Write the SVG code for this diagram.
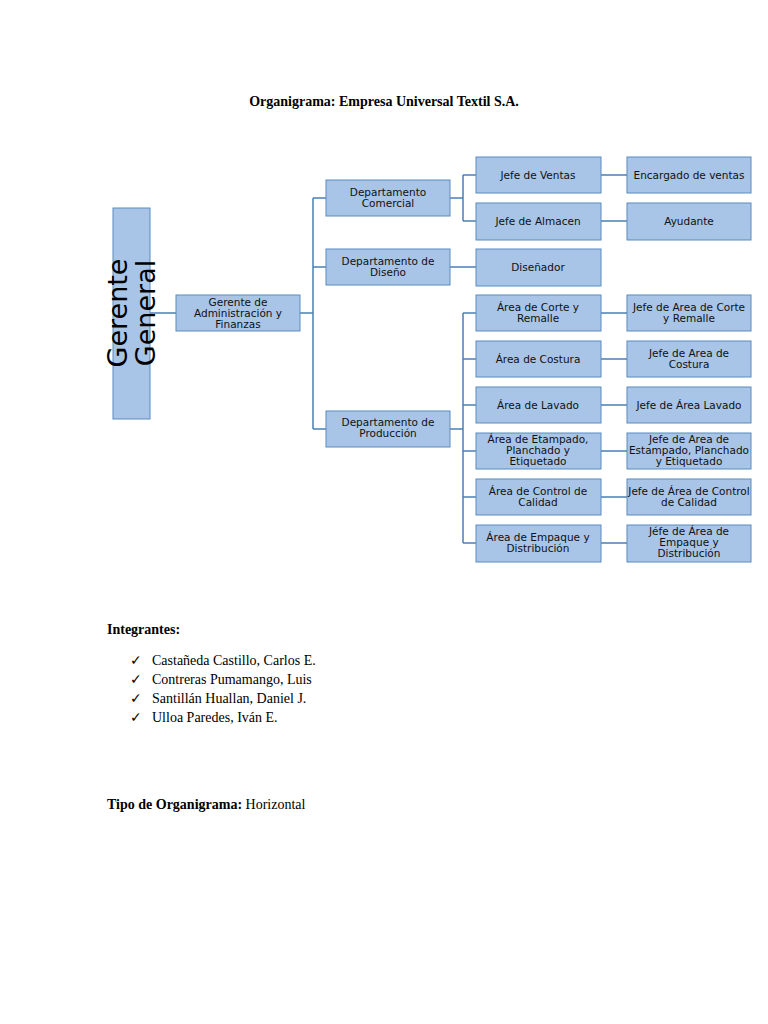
<svg xmlns="http://www.w3.org/2000/svg" width="768" height="1024" viewBox="0 0 768 1024">
<style>
.b{fill:#a8c4e6;stroke:#5a8cbf;stroke-width:1}
.t{font-family:"DejaVu Sans",sans-serif;font-size:10.5px;fill:#111;text-anchor:middle}
.s{font-family:"Liberation Serif",serif;font-size:14px;fill:#000}
.c{fill:none;stroke:#4a7fb5;stroke-width:1.5}
</style>
<rect width="768" height="1024" fill="#fff"/>
<text class="s" x="384" y="106" text-anchor="middle" font-weight="bold">Organigrama: Empresa Universal Textil S.A.</text>
<g id="connectors">
<path class="c" d="M150 313H176M300 313H313M313 198V429M313 198H326M313 267H326M313 429H326"/>
<path class="c" d="M450 198H463M463 175V221M463 175H476M463 221H476M601 175H627M601 221H627M450 267H476"/>
<path class="c" d="M450 429H463M463 313V543M463 313H476M463 359H476M463 405H476M463 451H476M463 497H476M463 543H476"/>
<path class="c" d="M601 313H627M601 359H627M601 405H627M601 451H627M601 497H627M601 543H627"/>
</g>
<g id="gg"><rect class="b" x="113" y="208" width="37" height="211"/>
<text font-family="DejaVu Sans,sans-serif" font-size="27" fill="#000" text-anchor="middle" transform="translate(131 313) rotate(-90)"><tspan x="0" y="-4">Gerente</tspan><tspan x="0" y="24">General</tspan></text></g>
<g id="adm"><rect class="b" x="176" y="295" width="124" height="36"/><text class="t" x="238" y="306">Gerente de<tspan x="238" dy="11">Administración y</tspan><tspan x="238" dy="11">Finanzas</tspan></text></g>
<g id="dc"><rect class="b" x="326" y="180" width="124" height="36"/><text class="t" x="388" y="196">Departamento<tspan x="388" dy="11">Comercial</tspan></text></g>
<g id="dd"><rect class="b" x="326" y="249" width="124" height="36"/><text class="t" x="388" y="265">Departamento de<tspan x="388" dy="11">Diseño</tspan></text></g>
<g id="dp"><rect class="b" x="326" y="411" width="124" height="36"/><text class="t" x="388" y="426">Departamento de<tspan x="388" dy="11">Producción</tspan></text></g>
<g id="jv"><rect class="b" x="476" y="157" width="125" height="36"/><text class="t" x="538" y="179">Jefe de Ventas</text></g>
<g id="ja"><rect class="b" x="476" y="203" width="125" height="37"/><text class="t" x="538" y="225">Jefe de Almacen</text></g>
<g id="di"><rect class="b" x="476" y="249" width="125" height="37"/><text class="t" x="538" y="271">Diseñador</text></g>
<g id="ac"><rect class="b" x="476" y="295" width="125" height="36"/><text class="t" x="538" y="311">Área de Corte y<tspan x="538" dy="11">Remalle</tspan></text></g>
<g id="acs"><rect class="b" x="476" y="341" width="125" height="36"/><text class="t" x="538" y="363">Área de Costura</text></g>
<g id="al"><rect class="b" x="476" y="387" width="125" height="36"/><text class="t" x="538" y="409">Área de Lavado</text></g>
<g id="ae"><rect class="b" x="476" y="433" width="125" height="36"/><text class="t" x="538" y="443">Área de Etampado,<tspan x="538" dy="11">Planchado y</tspan><tspan x="538" dy="11">Etiquetado</tspan></text></g>
<g id="acc"><rect class="b" x="476" y="479" width="125" height="36"/><text class="t" x="538" y="495">Área de Control de<tspan x="538" dy="11">Calidad</tspan></text></g>
<g id="aem"><rect class="b" x="476" y="525" width="125" height="37"/><text class="t" x="538" y="541">Área de Empaque y<tspan x="538" dy="11">Distribución</tspan></text></g>
<g id="ev"><rect class="b" x="627" y="157" width="124" height="36"/><text class="t" x="689" y="179">Encargado de ventas</text></g>
<g id="ay"><rect class="b" x="627" y="203" width="124" height="37"/><text class="t" x="689" y="225">Ayudante</text></g>
<g id="jc"><rect class="b" x="627" y="295" width="124" height="36"/><text class="t" x="689" y="311">Jefe de Area de Corte<tspan x="689" dy="11">y Remalle</tspan></text></g>
<g id="jcs"><rect class="b" x="627" y="341" width="124" height="36"/><text class="t" x="689" y="357">Jefe de Area de<tspan x="689" dy="11">Costura</tspan></text></g>
<g id="jl"><rect class="b" x="627" y="387" width="124" height="36"/><text class="t" x="689" y="409">Jefe de Área Lavado</text></g>
<g id="je"><rect class="b" x="627" y="433" width="124" height="36"/><text class="t" x="689" y="443">Jefe de Area de<tspan x="689" dy="11">Estampado, Planchado</tspan><tspan x="689" dy="11">y Etiquetado</tspan></text></g>
<g id="jcc"><rect class="b" x="627" y="479" width="124" height="36"/><text class="t" x="689" y="495">Jefe de Área de Control<tspan x="689" dy="11">de Calidad</tspan></text></g>
<g id="jem"><rect class="b" x="627" y="525" width="124" height="37"/><text class="t" x="689" y="535">Jéfe de Área de<tspan x="689" dy="11">Empaque y</tspan><tspan x="689" dy="11">Distribución</tspan></text></g>
<text class="s" x="107" y="634" font-weight="bold">Integrantes:</text>
<g class="s"><text class="s" x="130" y="665">✓</text><text class="s" x="152" y="665">Castañeda Castillo, Carlos E.</text>
<text class="s" x="130" y="684">✓</text><text class="s" x="152" y="684">Contreras Pumamango, Luis</text>
<text class="s" x="130" y="703">✓</text><text class="s" x="152" y="703">Santillán Huallan, Daniel J.</text>
<text class="s" x="130" y="722">✓</text><text class="s" x="152" y="722">Ulloa Paredes, Iván E.</text></g>
<text class="s" x="107" y="809"><tspan font-weight="bold">Tipo de Organigrama:</tspan> Horizontal</text>
</svg>
